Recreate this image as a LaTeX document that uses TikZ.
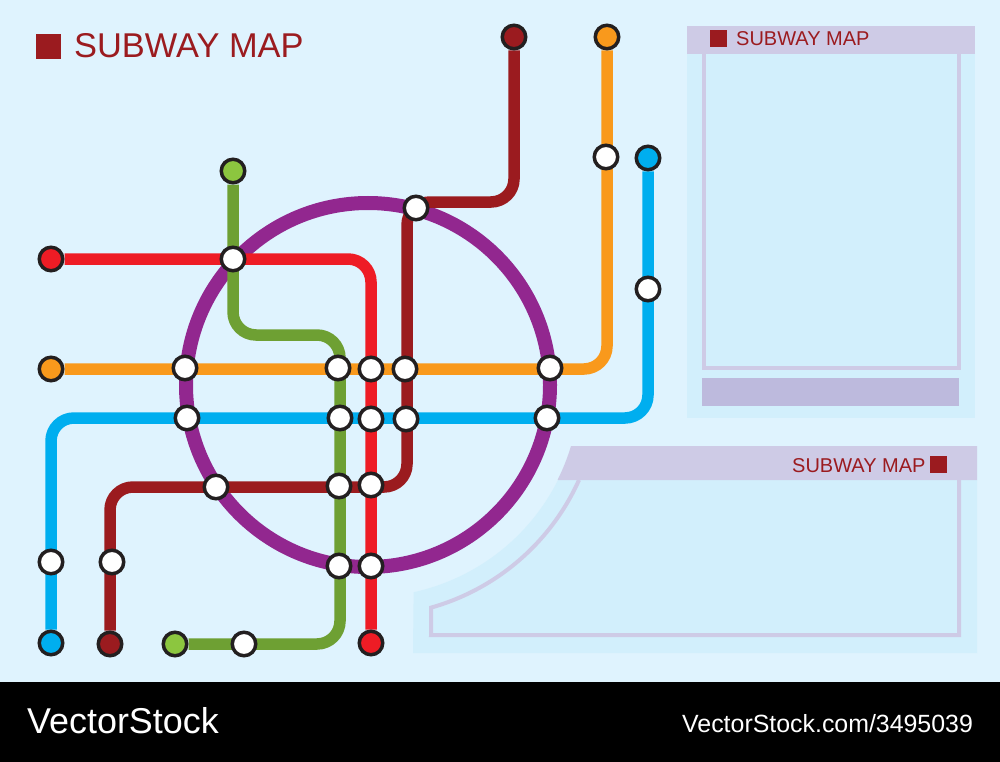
\documentclass[tikz,border=0pt]{standalone}
\usepackage{fontspec}
\setmainfont{Liberation Sans}
\usetikzlibrary{backgrounds}
\definecolor{mapsky}{HTML}{DFF3FE}
\definecolor{mappanel}{HTML}{D2EFFC}
\definecolor{mapband}{HTML}{CECBE6}
\definecolor{mapbar}{HTML}{BDBADD}
\definecolor{mapink}{HTML}{231F20}
\definecolor{mapmaroon}{HTML}{9B1B1F}
\definecolor{mapred}{HTML}{EE1C25}
\definecolor{maporange}{HTML}{F9991C}
\definecolor{mapblue}{HTML}{00AEEF}
\definecolor{mapgreen}{HTML}{6EA033}
\definecolor{maplime}{HTML}{8CC63F}
\definecolor{mappurple}{HTML}{92278F}

\begin{document}
\begin{tikzpicture}[x=1pt, y=-1pt]
      \tikzstyle{station}=[circle, draw=mapink, line width=3.5pt, fill=white, inner sep=0pt, minimum size=23.5pt]
      \tikzstyle{terminal}=[station, fill=#1]
      \tikzstyle{metro}=[line width=11.5pt, rounded corners=23pt]
      \tikzstyle{frameline}=[draw=mapband, line width=4pt]
      \tikzstyle{maptext}=[anchor=base west, inner sep=0pt, text=mapmaroon]
      \tikzstyle{mapsquare}=[rectangle, fill=mapmaroon, inner sep=0pt, minimum size=17pt]
      \useasboundingbox (0,0) rectangle (1000,762);

      % ends of the lines
      \node[terminal=mapred] (redwest) at (51,259) {};
      \node[terminal=maporange] (orangewest) at (51,369) {};
      \node[terminal=mapblue] (bluesouth) at (51,643) {};
      \node[terminal=mapmaroon] (maroonsouth) at (110,644) {};
      \node[terminal=maplime] (greensouth) at (175,644) {};
      \node[terminal=mapred] (redsouth) at (371,643) {};
      \node[terminal=maplime] (greennorth) at (233,171) {};
      \node[terminal=mapmaroon] (maroonnorth) at (514,37) {};
      \node[terminal=maporange] (orangenorth) at (607,37) {};
      \node[terminal=mapblue] (bluenorth) at (648,158) {};

      % stations
      \node[station] (s1) at (233,259) {};
      \node[station] (s2) at (416,208) {};
      \node[station] (s3) at (606,157) {};
      \node[station] (s4) at (648,289) {};
      \node[station] (o1) at (185,368) {};
      \node[station] (o2) at (338,368) {};
      \node[station] (o3) at (371,369) {};
      \node[station] (o4) at (405,369) {};
      \node[station] (o5) at (550,368) {};
      \node[station] (b1) at (187,418) {};
      \node[station] (b2) at (340,418) {};
      \node[station] (b3) at (371,419) {};
      \node[station] (b4) at (406,419) {};
      \node[station] (b5) at (547,418) {};
      \node[station] (m1) at (216,487) {};
      \node[station] (m2) at (339,486) {};
      \node[station] (m3) at (371,485) {};
      \node[station] (r1) at (339,566) {};
      \node[station] (r2) at (371,566) {};
      \node[station] (q1) at (51,562) {};
      \node[station] (q2) at (112,562) {};
      \node[station] (q3) at (244,644) {};

      % corners of the lines
      \coordinate (redturn) at (371,259);
      \coordinate (greenturna) at (233,335);
      \coordinate (greenturnb) at (340,335);
      \coordinate (greenturnc) at (340,644);
      \coordinate (orangeturn) at (607,369);
      \coordinate (blueturna) at (51,418);
      \coordinate (blueturnb) at (648,418);
      \coordinate (maroonturna) at (110,487);
      \coordinate (maroonturnb) at (407,487);
      \coordinate (maroonturnc) at (407,202);
      \coordinate (maroonturnd) at (514,202);

      % texts and squares
      \node[mapsquare, minimum size=25pt] (titlesquare) at (48,46.5) {};
      \node[maptext, font=\fontsize{34.4}{34.4}\selectfont] (title) at (74,58) {SUBWAY MAP};
      \node[mapsquare] (uppersquare) at (718.5,39) {};
      \node[maptext, font=\fontsize{20}{20}\selectfont] (uppertitle) at (736,46) {SUBWAY MAP};
      \node[mapsquare] (lowersquare) at (938.5,464.5) {};
      \node[maptext, font=\fontsize{20}{20}\selectfont] (lowertitle) at (792,472) {SUBWAY MAP};
      \node[anchor=base west, inner sep=0pt, text=white, font=\fontsize{35.9}{35.9}\selectfont] (brand) at (27,733) {VectorStock};
      \node[anchor=base west, inner sep=0pt, text=white, font=\fontsize{24.9}{24.9}\selectfont] (link) at (682,732) {VectorStock.com/3495039};

      \begin{scope}[on background layer]
        % sheet and panels
        \fill[mapsky] (0,0) rectangle (1000,682);
        \fill[black] (0,682) rectangle (1000,762);
        \fill[mappanel] (687,26) rectangle (975,418);
        \fill[mappanel] (558,480) arc[start angle=-26.6, end angle=-77.7, radius=212pt] -- (413,653) -- (977,653) -- (977,480) -- cycle;
        \draw[frameline] (704,54) -- (704,368) -- (959,368) -- (959,54);
        \fill[mapbar] (702,378) rectangle (959,406);
        \draw[frameline] (579,480) arc[start angle=-24.2, end angle=-74.2, radius=231pt] -- (431,635) -- (959,635) -- (959,480);
        \fill[mapband] (687,26) rectangle (975,54);
        \fill[mapband] (571,446) arc[start angle=-16.7, end angle=-26.6, radius=212pt] -- (977,480) -- (977,446) -- cycle;

        % the ring and the lines
        \node[circle, draw=mappurple, line width=14pt, inner sep=0pt, minimum size=364pt] (ring) at (368,385) {};
        \draw[metro, mapred] (redwest) -- (redturn) -- (redsouth);
        \draw[metro, mapgreen] (greennorth) -- (greenturna) -- (greenturnb) -- (greenturnc) -- (greensouth);
        \draw[metro, maporange] (orangewest) -- (orangeturn) -- (orangenorth);
        \draw[metro, mapblue] (bluesouth) -- (blueturna) -- (blueturnb) -- (bluenorth);
        \draw[metro, mapmaroon] (maroonsouth) -- (maroonturna) -- (maroonturnb) -- (maroonturnc) -- (maroonturnd) -- (maroonnorth);
      \end{scope}
  \end{tikzpicture}
\end{document}
